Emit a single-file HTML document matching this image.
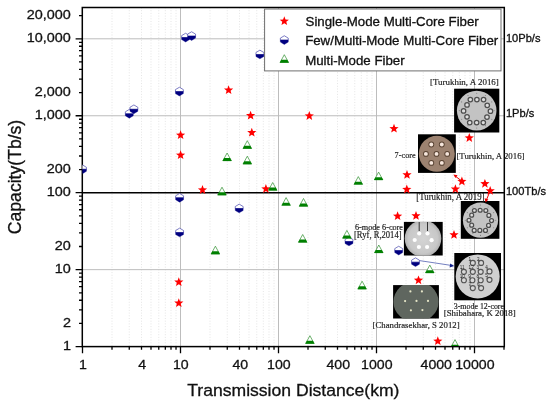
<!DOCTYPE html>
<html><head><meta charset="utf-8"><style>
html,body{margin:0;padding:0;background:#fff;}
svg{display:block;}
.gd{stroke:#e2e2e2;stroke-width:0.9;stroke-dasharray:1 1.7;}
.gs{stroke:#bdbdbd;stroke-width:1;}
text{font-family:"Liberation Sans",Arial,sans-serif;fill:#111;stroke:#111;stroke-width:0.3px;}
.tl{font-size:13.6px;}
.at{font-size:17.45px;}
.rl{font-size:10.7px;}
.lg{font-size:13.25px;}
.tiny{font-size:4.6px;fill:#2a2a2a;stroke:none;}
.an{font-family:"Liberation Serif","Times New Roman",serif;fill:#1e1e1e;stroke:#1e1e1e;stroke-width:0.18px;}
</style></head><body>
<svg width="550" height="405" viewBox="0 0 550 405">
<defs><clipPath id="pc"><rect x="82.3" y="7.5" width="442" height="339.1"/></clipPath>
<clipPath id="mc"><rect x="82.4" y="0" width="430" height="346"/></clipPath>
<radialGradient id="g6"><stop offset="0" stop-color="#d4d4d4"/><stop offset="0.8" stop-color="#c8c8c8"/><stop offset="1" stop-color="#b2b2b2"/></radialGradient></defs>
<rect width="550" height="405" fill="#fff"/>
<line x1="112" y1="7.5" x2="112" y2="346.6" class="gd"/>
<line x1="129.26" y1="7.5" x2="129.26" y2="346.6" class="gd"/>
<line x1="141.5" y1="7.5" x2="141.5" y2="346.6" class="gd"/>
<line x1="151" y1="7.5" x2="151" y2="346.6" class="gd"/>
<line x1="158.76" y1="7.5" x2="158.76" y2="346.6" class="gd"/>
<line x1="165.32" y1="7.5" x2="165.32" y2="346.6" class="gd"/>
<line x1="171" y1="7.5" x2="171" y2="346.6" class="gd"/>
<line x1="176.02" y1="7.5" x2="176.02" y2="346.6" class="gd"/>
<line x1="210" y1="7.5" x2="210" y2="346.6" class="gd"/>
<line x1="227.26" y1="7.5" x2="227.26" y2="346.6" class="gd"/>
<line x1="239.5" y1="7.5" x2="239.5" y2="346.6" class="gd"/>
<line x1="249" y1="7.5" x2="249" y2="346.6" class="gd"/>
<line x1="256.76" y1="7.5" x2="256.76" y2="346.6" class="gd"/>
<line x1="263.32" y1="7.5" x2="263.32" y2="346.6" class="gd"/>
<line x1="269" y1="7.5" x2="269" y2="346.6" class="gd"/>
<line x1="274.02" y1="7.5" x2="274.02" y2="346.6" class="gd"/>
<line x1="308" y1="7.5" x2="308" y2="346.6" class="gd"/>
<line x1="325.26" y1="7.5" x2="325.26" y2="346.6" class="gd"/>
<line x1="337.5" y1="7.5" x2="337.5" y2="346.6" class="gd"/>
<line x1="347" y1="7.5" x2="347" y2="346.6" class="gd"/>
<line x1="354.76" y1="7.5" x2="354.76" y2="346.6" class="gd"/>
<line x1="361.32" y1="7.5" x2="361.32" y2="346.6" class="gd"/>
<line x1="367" y1="7.5" x2="367" y2="346.6" class="gd"/>
<line x1="372.02" y1="7.5" x2="372.02" y2="346.6" class="gd"/>
<line x1="406" y1="7.5" x2="406" y2="346.6" class="gd"/>
<line x1="423.26" y1="7.5" x2="423.26" y2="346.6" class="gd"/>
<line x1="435.5" y1="7.5" x2="435.5" y2="346.6" class="gd"/>
<line x1="445" y1="7.5" x2="445" y2="346.6" class="gd"/>
<line x1="452.76" y1="7.5" x2="452.76" y2="346.6" class="gd"/>
<line x1="459.32" y1="7.5" x2="459.32" y2="346.6" class="gd"/>
<line x1="465" y1="7.5" x2="465" y2="346.6" class="gd"/>
<line x1="470.02" y1="7.5" x2="470.02" y2="346.6" class="gd"/>
<line x1="180.5" y1="7.5" x2="180.5" y2="346.6" class="gs"/>
<line x1="278.5" y1="7.5" x2="278.5" y2="346.6" class="gs"/>
<line x1="376.5" y1="7.5" x2="376.5" y2="346.6" class="gs"/>
<line x1="474.5" y1="7.5" x2="474.5" y2="346.6" class="gs"/>
<line x1="82.3" y1="269.65" x2="504.3" y2="269.65" class="gs"/>
<line x1="82.3" y1="115.75" x2="504.3" y2="115.75" class="gs"/>
<line x1="82.3" y1="38.8" x2="504.3" y2="38.8" class="gs"/>
<line x1="82.3" y1="192.7" x2="504.3" y2="192.7" stroke="#000" stroke-width="1.4"/>
<path d="M75.6 346.6H82.3M82.5 346.6V353.3M79 323.44H82.3M112 346.6V349.8M79 309.89H82.3M129.26 346.6V349.8M79 300.27H82.3M141.5 346.6V349.8M79 292.81H82.3M151 346.6V349.8M79 286.72H82.3M158.76 346.6V349.8M79 281.57H82.3M165.32 346.6V349.8M79 277.11H82.3M171 346.6V349.8M79 273.17H82.3M176.02 346.6V349.8M75.6 269.65H82.3M180.5 346.6V353.3M79 246.49H82.3M210 346.6V349.8M79 232.94H82.3M227.26 346.6V349.8M79 223.32H82.3M239.5 346.6V349.8M79 215.86H82.3M249 346.6V349.8M79 209.77H82.3M256.76 346.6V349.8M79 204.62H82.3M263.32 346.6V349.8M79 200.16H82.3M269 346.6V349.8M79 196.22H82.3M274.02 346.6V349.8M75.6 192.7H82.3M278.5 346.6V353.3M79 169.54H82.3M308 346.6V349.8M79 155.99H82.3M325.26 346.6V349.8M79 146.37H82.3M337.5 346.6V349.8M79 138.91H82.3M347 346.6V349.8M79 132.82H82.3M354.76 346.6V349.8M79 127.67H82.3M361.32 346.6V349.8M79 123.21H82.3M367 346.6V349.8M79 119.27H82.3M372.02 346.6V349.8M75.6 115.75H82.3M376.5 346.6V353.3M79 92.59H82.3M406 346.6V349.8M79 79.04H82.3M423.26 346.6V349.8M79 69.42H82.3M435.5 346.6V349.8M79 61.96H82.3M445 346.6V349.8M79 55.87H82.3M452.76 346.6V349.8M79 50.72H82.3M459.32 346.6V349.8M79 46.26H82.3M465 346.6V349.8M79 42.32H82.3M470.02 346.6V349.8M75.6 38.8H82.3M474.5 346.6V353.3M79 15.64H82.3M504 346.6V349.8" stroke="#000" stroke-width="1.3" fill="none"/>
<rect x="82.3" y="7.5" width="422" height="339.1" fill="none" stroke="#000" stroke-width="1.5"/>
<text transform="translate(62.89 350.2) scale(1.06 1)" class="tl" style="font-size:13.6px">1</text>
<text transform="translate(62.89 327.04) scale(1.06 1)" class="tl" style="font-size:13.6px">2</text>
<text transform="translate(54.67 273.25) scale(1.06 1)" class="tl" style="font-size:13.6px">10</text>
<text transform="translate(54.67 250.09) scale(1.06 1)" class="tl" style="font-size:13.6px">20</text>
<text transform="translate(46.75 196.3) scale(1.06 1)" class="tl" style="font-size:13.6px">100</text>
<text transform="translate(46.75 173.14) scale(1.06 1)" class="tl" style="font-size:13.6px">200</text>
<text transform="translate(34.64 119.35) scale(1.06 1)" class="tl" style="font-size:13.6px">1,000</text>
<text transform="translate(34.64 96.19) scale(1.06 1)" class="tl" style="font-size:13.6px">2,000</text>
<text transform="translate(26.71 42.4) scale(1.06 1)" class="tl" style="font-size:13.6px">10,000</text>
<text transform="translate(26.71 19.24) scale(1.06 1)" class="tl" style="font-size:13.6px">20,000</text>
<text transform="translate(79 368.8) scale(1.04 1)" class="tl" style="font-size:13.6px">1</text>
<text transform="translate(138.28 368.8) scale(1.04 1)" class="tl" style="font-size:13.6px">4</text>
<text transform="translate(172.97 368.8) scale(1.04 1)" class="tl" style="font-size:13.6px">10</text>
<text transform="translate(232.39 368.8) scale(1.04 1)" class="tl" style="font-size:13.6px">40</text>
<text transform="translate(267.08 368.8) scale(1.04 1)" class="tl" style="font-size:13.6px">100</text>
<text transform="translate(326.5 368.8) scale(1.04 1)" class="tl" style="font-size:13.6px">400</text>
<text transform="translate(361.12 368.8) scale(1.04 1)" class="tl" style="font-size:13.6px">1000</text>
<text transform="translate(420.54 368.8) scale(1.04 1)" class="tl" style="font-size:13.6px">4000</text>
<text transform="translate(455.23 368.8) scale(1.04 1)" class="tl" style="font-size:13.6px">10000</text>
<text transform="translate(187.25 396) scale(1.023 1)" class="at" style="font-size:17.2px">Transmission Distance(km)</text>
<g transform="translate(21.2 234.18) rotate(-90)"><text x="0" y="0" class="at" style="font-size:17.6px">Capacity(Tb/s)</text></g>
<text transform="translate(505.91 42.3) scale(1.06 1)" class="rl" style="font-size:10.5px">10Pb/s</text>
<text transform="translate(505.91 117.2) scale(1.06 1)" class="rl" style="font-size:10.5px">1Pb/s</text>
<text transform="translate(505.91 194.9) scale(1.06 1)" class="rl" style="font-size:10.5px">100Tb/s</text>
<g clip-path="url(#pc)">
<rect x="454.1" y="88.7" width="45.2" height="43.8" fill="#000"/><circle cx="476.7" cy="110.6" r="19.8" fill="#c3c3c3"/><circle cx="470.35" cy="99.55" r="2.25" fill="#dedede" stroke="#4e4e4e" stroke-width="1.25"/><circle cx="476.88" cy="99.55" r="2.25" fill="#dedede" stroke="#4e4e4e" stroke-width="1.25"/><circle cx="483.54" cy="99.55" r="2.25" fill="#dedede" stroke="#4e4e4e" stroke-width="1.25"/><circle cx="487.24" cy="105.35" r="2.25" fill="#dedede" stroke="#4e4e4e" stroke-width="1.25"/><circle cx="490.44" cy="111.14" r="2.25" fill="#dedede" stroke="#4e4e4e" stroke-width="1.25"/><circle cx="486.99" cy="117.06" r="2.25" fill="#dedede" stroke="#4e4e4e" stroke-width="1.25"/><circle cx="483.29" cy="122.61" r="2.25" fill="#dedede" stroke="#4e4e4e" stroke-width="1.25"/><circle cx="476.63" cy="122.61" r="2.25" fill="#dedede" stroke="#4e4e4e" stroke-width="1.25"/><circle cx="469.73" cy="122.61" r="2.25" fill="#dedede" stroke="#4e4e4e" stroke-width="1.25"/><circle cx="467.02" cy="116.81" r="2.25" fill="#dedede" stroke="#4e4e4e" stroke-width="1.25"/><circle cx="463.56" cy="110.89" r="2.25" fill="#dedede" stroke="#4e4e4e" stroke-width="1.25"/><circle cx="467.02" cy="104.98" r="2.25" fill="#dedede" stroke="#4e4e4e" stroke-width="1.25"/><circle cx="476.7" cy="93.2" r="0.55" fill="#808080"/><circle cx="485.4" cy="95.53" r="0.55" fill="#808080"/><circle cx="491.77" cy="101.9" r="0.55" fill="#808080"/><circle cx="494.1" cy="110.6" r="0.55" fill="#808080"/><circle cx="491.77" cy="119.3" r="0.55" fill="#808080"/><circle cx="485.4" cy="125.67" r="0.55" fill="#808080"/><circle cx="476.7" cy="128" r="0.55" fill="#808080"/><circle cx="468" cy="125.67" r="0.55" fill="#808080"/><circle cx="461.63" cy="119.3" r="0.55" fill="#808080"/><circle cx="459.3" cy="110.6" r="0.55" fill="#808080"/><circle cx="461.63" cy="101.9" r="0.55" fill="#808080"/><circle cx="468" cy="95.53" r="0.55" fill="#808080"/>
<rect x="460.8" y="201" width="38.6" height="37.8" fill="#000"/><circle cx="480.5" cy="220.2" r="17.6" fill="#c3c3c3"/><circle cx="474.4" cy="210.51" r="1.95" fill="#dedede" stroke="#4e4e4e" stroke-width="1.25"/><circle cx="480.16" cy="210.29" r="1.95" fill="#dedede" stroke="#4e4e4e" stroke-width="1.25"/><circle cx="485.82" cy="210.51" r="1.95" fill="#dedede" stroke="#4e4e4e" stroke-width="1.25"/><circle cx="488.86" cy="215.4" r="1.95" fill="#dedede" stroke="#4e4e4e" stroke-width="1.25"/><circle cx="491.58" cy="220.62" r="1.95" fill="#dedede" stroke="#4e4e4e" stroke-width="1.25"/><circle cx="488.54" cy="225.4" r="1.95" fill="#dedede" stroke="#4e4e4e" stroke-width="1.25"/><circle cx="485.49" cy="230.41" r="1.95" fill="#dedede" stroke="#4e4e4e" stroke-width="1.25"/><circle cx="479.84" cy="230.41" r="1.95" fill="#dedede" stroke="#4e4e4e" stroke-width="1.25"/><circle cx="474.18" cy="230.41" r="1.95" fill="#dedede" stroke="#4e4e4e" stroke-width="1.25"/><circle cx="471.68" cy="225.19" r="1.95" fill="#dedede" stroke="#4e4e4e" stroke-width="1.25"/><circle cx="468.96" cy="220.29" r="1.95" fill="#dedede" stroke="#4e4e4e" stroke-width="1.25"/><circle cx="471.68" cy="215.18" r="1.95" fill="#dedede" stroke="#4e4e4e" stroke-width="1.25"/><circle cx="480.5" cy="205" r="0.55" fill="#808080"/><circle cx="488.1" cy="207.04" r="0.55" fill="#808080"/><circle cx="493.66" cy="212.6" r="0.55" fill="#808080"/><circle cx="495.7" cy="220.2" r="0.55" fill="#808080"/><circle cx="493.66" cy="227.8" r="0.55" fill="#808080"/><circle cx="488.1" cy="233.36" r="0.55" fill="#808080"/><circle cx="480.5" cy="235.4" r="0.55" fill="#808080"/><circle cx="472.9" cy="233.36" r="0.55" fill="#808080"/><circle cx="467.34" cy="227.8" r="0.55" fill="#808080"/><circle cx="465.3" cy="220.2" r="0.55" fill="#808080"/><circle cx="467.34" cy="212.6" r="0.55" fill="#808080"/><circle cx="472.9" cy="207.04" r="0.55" fill="#808080"/>
<rect x="418" y="134.3" width="37.8" height="38.6" fill="#000"/><circle cx="436.8" cy="153.8" r="18" fill="#9c8270"/><circle cx="431.3" cy="144.5" r="2.9" fill="#5a4434"/><circle cx="431.3" cy="144.5" r="1.95" fill="#f6e6dc"/><circle cx="441.8" cy="144.5" r="2.9" fill="#5a4434"/><circle cx="441.8" cy="144.5" r="1.95" fill="#f6e6dc"/><circle cx="425.9" cy="153.9" r="2.9" fill="#5a4434"/><circle cx="425.9" cy="153.9" r="1.95" fill="#f6e6dc"/><circle cx="436.5" cy="153.9" r="2.9" fill="#5a4434"/><circle cx="436.5" cy="153.9" r="1.95" fill="#f6e6dc"/><circle cx="447.2" cy="153.9" r="2.9" fill="#5a4434"/><circle cx="447.2" cy="153.9" r="1.95" fill="#f6e6dc"/><circle cx="431.3" cy="162.9" r="2.9" fill="#5a4434"/><circle cx="431.3" cy="162.9" r="1.95" fill="#f6e6dc"/><circle cx="441.8" cy="162.9" r="2.9" fill="#5a4434"/><circle cx="441.8" cy="162.9" r="1.95" fill="#f6e6dc"/>
<rect x="403.9" y="221.9" width="38.8" height="33.6" fill="#000"/><clipPath id="c6"><rect x="403.9" y="221.9" width="38.8" height="33.6"/></clipPath><circle cx="423" cy="238.6" r="18.3" fill="url(#g6)" clip-path="url(#c6)"/><path d="M419.2 222V231M427.5 222V231" stroke="#333" stroke-width="1"/><circle cx="419.2" cy="233.5" r="2.1" fill="#fff"/><circle cx="427.5" cy="233.5" r="2.1" fill="#fff"/><circle cx="414.7" cy="240" r="2.1" fill="#fff"/><circle cx="431.6" cy="240.2" r="2.1" fill="#fff"/><circle cx="418.9" cy="247" r="2.1" fill="#fff"/><circle cx="427.1" cy="247" r="2.1" fill="#fff"/>
<rect x="454.3" y="253" width="46.7" height="47.3" fill="#000"/><circle cx="477.7" cy="276.4" r="22" fill="#d0d0d0"/><circle cx="472.8" cy="262.9" r="2.5" fill="#d8d8d8" stroke="#555" stroke-width="1.15"/><path d="M470.4 262.3v-3" stroke="#555" stroke-width="0.7"/><text x="468.6" y="260.5" class="tiny">1</text><circle cx="481.1" cy="262.9" r="2.5" fill="#d8d8d8" stroke="#555" stroke-width="1.15"/><path d="M478.7 262.3v-3" stroke="#555" stroke-width="0.7"/><text x="476.9" y="260.5" class="tiny">2</text><circle cx="463.9" cy="271.8" r="2.5" fill="#d8d8d8" stroke="#555" stroke-width="1.15"/><path d="M461.5 271.2v-3" stroke="#555" stroke-width="0.7"/><text x="459.7" y="269.4" class="tiny">11</text><circle cx="472.8" cy="271.8" r="2.5" fill="#d8d8d8" stroke="#555" stroke-width="1.15"/><path d="M470.4 271.2v-3" stroke="#555" stroke-width="0.7"/><text x="468.6" y="269.4" class="tiny">12</text><circle cx="480.7" cy="271.8" r="2.5" fill="#d8d8d8" stroke="#555" stroke-width="1.15"/><path d="M478.3 271.2v-3" stroke="#555" stroke-width="0.7"/><text x="476.5" y="269.4" class="tiny">3</text><circle cx="489.5" cy="271.4" r="2.5" fill="#d8d8d8" stroke="#555" stroke-width="1.15"/><path d="M487.1 270.8v-3" stroke="#555" stroke-width="0.7"/><text x="485.3" y="269" class="tiny">4</text><circle cx="463.9" cy="280.2" r="2.5" fill="#d8d8d8" stroke="#555" stroke-width="1.15"/><path d="M461.5 279.6v-3" stroke="#555" stroke-width="0.7"/><text x="459.7" y="277.8" class="tiny">10</text><circle cx="472.4" cy="280.2" r="2.5" fill="#d8d8d8" stroke="#555" stroke-width="1.15"/><path d="M470 279.6v-3" stroke="#555" stroke-width="0.7"/><text x="468.2" y="277.8" class="tiny">9</text><circle cx="480.7" cy="280.2" r="2.5" fill="#d8d8d8" stroke="#555" stroke-width="1.15"/><path d="M478.3 279.6v-3" stroke="#555" stroke-width="0.7"/><text x="476.5" y="277.8" class="tiny">8</text><circle cx="489.5" cy="279.8" r="2.5" fill="#d8d8d8" stroke="#555" stroke-width="1.15"/><path d="M487.1 279.2v-3" stroke="#555" stroke-width="0.7"/><text x="485.3" y="277.4" class="tiny">5</text><circle cx="472.8" cy="288.1" r="2.5" fill="#d8d8d8" stroke="#555" stroke-width="1.15"/><path d="M470.4 287.5v-3" stroke="#555" stroke-width="0.7"/><text x="468.6" y="285.7" class="tiny">7</text><circle cx="481.1" cy="288.1" r="2.5" fill="#d8d8d8" stroke="#555" stroke-width="1.15"/><path d="M478.7 287.5v-3" stroke="#555" stroke-width="0.7"/><text x="476.9" y="285.7" class="tiny">6</text>
<rect x="393.1" y="285.1" width="45.8" height="33.4" fill="#000"/><clipPath id="cc"><rect x="393.1" y="285.1" width="45.8" height="33.4"/></clipPath><ellipse cx="416" cy="301.8" rx="22.6" ry="20.5" fill="#5f665f" clip-path="url(#cc)"/><circle cx="410.4" cy="291.4" r="1.1" fill="#e6e6c8"/><circle cx="421.9" cy="291.4" r="1.1" fill="#e6e6c8"/><circle cx="405.1" cy="301.1" r="1.1" fill="#e6e6c8"/><circle cx="416.5" cy="300.9" r="1.1" fill="#e6e6c8"/><circle cx="428" cy="300.9" r="1.1" fill="#e6e6c8"/><circle cx="410.9" cy="310.3" r="1.1" fill="#e6e6c8"/><circle cx="422.4" cy="310.1" r="1.1" fill="#e6e6c8"/>
</g>
<g clip-path="url(#mc)">
<polygon points="180.6,130.31 181.83,133.48 185.21,133.66 182.58,135.81 183.45,139.09 180.6,137.25 177.75,139.09 178.62,135.81 175.99,133.66 179.37,133.48" fill="#f00"/>
<polygon points="180.6,150.31 181.83,153.48 185.21,153.66 182.58,155.81 183.45,159.09 180.6,157.25 177.75,159.09 178.62,155.81 175.99,153.66 179.37,153.48" fill="#f00"/>
<polygon points="202.5,185.11 203.73,188.28 207.11,188.46 204.48,190.61 205.35,193.89 202.5,192.05 199.65,193.89 200.52,190.61 197.89,188.46 201.27,188.28" fill="#f00"/>
<polygon points="228.6,85.21 229.83,88.38 233.21,88.56 230.58,90.71 231.45,93.99 228.6,92.15 225.75,93.99 226.62,90.71 223.99,88.56 227.37,88.38" fill="#f00"/>
<polygon points="250.6,110.71 251.83,113.88 255.21,114.06 252.58,116.21 253.45,119.49 250.6,117.65 247.75,119.49 248.62,116.21 245.99,114.06 249.37,113.88" fill="#f00"/>
<polygon points="251.8,127.71 253.03,130.88 256.41,131.06 253.78,133.21 254.65,136.49 251.8,134.65 248.95,136.49 249.82,133.21 247.19,131.06 250.57,130.88" fill="#f00"/>
<polygon points="309.3,111.11 310.53,114.28 313.91,114.46 311.28,116.61 312.15,119.89 309.3,118.05 306.45,119.89 307.32,116.61 304.69,114.46 308.07,114.28" fill="#f00"/>
<polygon points="394,123.81 395.23,126.98 398.61,127.16 395.98,129.31 396.85,132.59 394,130.75 391.15,132.59 392.02,129.31 389.39,127.16 392.77,126.98" fill="#f00"/>
<polygon points="469.3,133.11 470.53,136.28 473.91,136.46 471.28,138.61 472.15,141.89 469.3,140.05 466.45,141.89 467.32,138.61 464.69,136.46 468.07,136.28" fill="#f00"/>
<polygon points="407,170.01 408.23,173.18 411.61,173.36 408.98,175.51 409.85,178.79 407,176.95 404.15,178.79 405.02,175.51 402.39,173.36 405.77,173.18" fill="#f00"/>
<polygon points="406.8,184.61 408.03,187.78 411.41,187.96 408.78,190.11 409.65,193.39 406.8,191.55 403.95,193.39 404.82,190.11 402.19,187.96 405.57,187.78" fill="#f00"/>
<polygon points="461.9,176.61 463.13,179.78 466.51,179.96 463.88,182.11 464.75,185.39 461.9,183.55 459.05,185.39 459.92,182.11 457.29,179.96 460.67,179.78" fill="#f00"/>
<polygon points="455.4,184.21 456.63,187.38 460.01,187.56 457.38,189.71 458.25,192.99 455.4,191.15 452.55,192.99 453.42,189.71 450.79,187.56 454.17,187.38" fill="#f00"/>
<polygon points="484.9,178.91 486.13,182.08 489.51,182.26 486.88,184.41 487.75,187.69 484.9,185.85 482.05,187.69 482.92,184.41 480.29,182.26 483.67,182.08" fill="#f00"/>
<polygon points="490.2,186.01 491.43,189.18 494.81,189.36 492.18,191.51 493.05,194.79 490.2,192.95 487.35,194.79 488.22,191.51 485.59,189.36 488.97,189.18" fill="#f00"/>
<polygon points="416,211.01 417.23,214.18 420.61,214.36 417.98,216.51 418.85,219.79 416,217.95 413.15,219.79 414.02,216.51 411.39,214.36 414.77,214.18" fill="#f00"/>
<polygon points="397.6,211.31 398.83,214.48 402.21,214.66 399.58,216.81 400.45,220.09 397.6,218.25 394.75,220.09 395.62,216.81 392.99,214.66 396.37,214.48" fill="#f00"/>
<polygon points="454,230.01 455.23,233.18 458.61,233.36 455.98,235.51 456.85,238.79 454,236.95 451.15,238.79 452.02,235.51 449.39,233.36 452.77,233.18" fill="#f00"/>
<polygon points="418.5,275.41 419.73,278.58 423.11,278.76 420.48,280.91 421.35,284.19 418.5,282.35 415.65,284.19 416.52,280.91 413.89,278.76 417.27,278.58" fill="#f00"/>
<polygon points="437.8,336.31 439.03,339.48 442.41,339.66 439.78,341.81 440.65,345.09 437.8,343.25 434.95,345.09 435.82,341.81 433.19,339.66 436.57,339.48" fill="#f00"/>
<polygon points="178.8,277.21 180.03,280.38 183.41,280.56 180.78,282.71 181.65,285.99 178.8,284.15 175.95,285.99 176.82,282.71 174.19,280.56 177.57,280.38" fill="#f00"/>
<polygon points="178.8,298.21 180.03,301.38 183.41,301.56 180.78,303.71 181.65,306.99 178.8,305.15 175.95,306.99 176.82,303.71 174.19,301.56 177.57,301.38" fill="#f00"/>
<polygon points="265.9,184.11 267.13,187.28 270.51,187.46 267.88,189.61 268.75,192.89 265.9,191.05 263.05,192.89 263.92,189.61 261.29,187.46 264.67,187.28" fill="#f00"/>
<polygon points="78.55,169.3 78.55,167.3 82.5,164.95 86.45,167.3 86.45,169.3" fill="#fff" stroke="#4646ac" stroke-width="0.7" stroke-linejoin="round"/><polygon points="78.55,169.3 86.45,169.3 86.45,171.3 82.5,173.65 78.55,171.3" fill="#000080" stroke="#000080" stroke-width="0.35" stroke-linejoin="round"/>
<polygon points="125.35,113.8 125.35,111.8 129.3,109.45 133.25,111.8 133.25,113.8" fill="#fff" stroke="#4646ac" stroke-width="0.7" stroke-linejoin="round"/><polygon points="125.35,113.8 133.25,113.8 133.25,115.8 129.3,118.15 125.35,115.8" fill="#000080" stroke="#000080" stroke-width="0.35" stroke-linejoin="round"/>
<polygon points="129.95,109.3 129.95,107.3 133.9,104.95 137.85,107.3 137.85,109.3" fill="#fff" stroke="#4646ac" stroke-width="0.7" stroke-linejoin="round"/><polygon points="129.95,109.3 137.85,109.3 137.85,111.3 133.9,113.65 129.95,111.3" fill="#000080" stroke="#000080" stroke-width="0.35" stroke-linejoin="round"/>
<polygon points="175.45,91.6 175.45,89.6 179.4,87.25 183.35,89.6 183.35,91.6" fill="#fff" stroke="#4646ac" stroke-width="0.7" stroke-linejoin="round"/><polygon points="175.45,91.6 183.35,91.6 183.35,93.6 179.4,95.95 175.45,93.6" fill="#000080" stroke="#000080" stroke-width="0.35" stroke-linejoin="round"/>
<polygon points="181.65,37.6 181.65,35.6 185.6,33.25 189.55,35.6 189.55,37.6" fill="#fff" stroke="#4646ac" stroke-width="0.7" stroke-linejoin="round"/><polygon points="181.65,37.6 189.55,37.6 189.55,39.6 185.6,41.95 181.65,39.6" fill="#000080" stroke="#000080" stroke-width="0.35" stroke-linejoin="round"/>
<polygon points="187.65,36.1 187.65,34.1 191.6,31.75 195.55,34.1 195.55,36.1" fill="#fff" stroke="#4646ac" stroke-width="0.7" stroke-linejoin="round"/><polygon points="187.65,36.1 195.55,36.1 195.55,38.1 191.6,40.45 187.65,38.1" fill="#000080" stroke="#000080" stroke-width="0.35" stroke-linejoin="round"/>
<polygon points="175.65,197.8 175.65,195.8 179.6,193.45 183.55,195.8 183.55,197.8" fill="#fff" stroke="#4646ac" stroke-width="0.7" stroke-linejoin="round"/><polygon points="175.65,197.8 183.55,197.8 183.55,199.8 179.6,202.15 175.65,199.8" fill="#000080" stroke="#000080" stroke-width="0.35" stroke-linejoin="round"/>
<polygon points="175.65,232.5 175.65,230.5 179.6,228.15 183.55,230.5 183.55,232.5" fill="#fff" stroke="#4646ac" stroke-width="0.7" stroke-linejoin="round"/><polygon points="175.65,232.5 183.55,232.5 183.55,234.5 179.6,236.85 175.65,234.5" fill="#000080" stroke="#000080" stroke-width="0.35" stroke-linejoin="round"/>
<polygon points="235.25,208.5 235.25,206.5 239.2,204.15 243.15,206.5 243.15,208.5" fill="#fff" stroke="#4646ac" stroke-width="0.7" stroke-linejoin="round"/><polygon points="235.25,208.5 243.15,208.5 243.15,210.5 239.2,212.85 235.25,210.5" fill="#000080" stroke="#000080" stroke-width="0.35" stroke-linejoin="round"/>
<polygon points="255.95,54.5 255.95,52.5 259.9,50.15 263.85,52.5 263.85,54.5" fill="#fff" stroke="#4646ac" stroke-width="0.7" stroke-linejoin="round"/><polygon points="255.95,54.5 263.85,54.5 263.85,56.5 259.9,58.85 255.95,56.5" fill="#000080" stroke="#000080" stroke-width="0.35" stroke-linejoin="round"/>
<polygon points="345.05,241.5 345.05,239.5 349,237.15 352.95,239.5 352.95,241.5" fill="#fff" stroke="#4646ac" stroke-width="0.7" stroke-linejoin="round"/><polygon points="345.05,241.5 352.95,241.5 352.95,243.5 349,245.85 345.05,243.5" fill="#000080" stroke="#000080" stroke-width="0.35" stroke-linejoin="round"/>
<polygon points="394.75,250.6 394.75,248.6 398.7,246.25 402.65,248.6 402.65,250.6" fill="#fff" stroke="#4646ac" stroke-width="0.7" stroke-linejoin="round"/><polygon points="394.75,250.6 402.65,250.6 402.65,252.6 398.7,254.95 394.75,252.6" fill="#000080" stroke="#000080" stroke-width="0.35" stroke-linejoin="round"/>
<polygon points="411.55,262.2 411.55,260.2 415.5,257.85 419.45,260.2 419.45,262.2" fill="#fff" stroke="#4646ac" stroke-width="0.7" stroke-linejoin="round"/><polygon points="411.55,262.2 419.45,262.2 419.45,264.2 415.5,266.55 411.55,264.2" fill="#000080" stroke="#000080" stroke-width="0.35" stroke-linejoin="round"/>
<polygon points="222,187.2 226.2,194.9 217.8,194.9" fill="#fff" stroke="#2e8f2e" stroke-width="0.7"/><polygon points="218.99,192.3 225.01,192.3 226.6,195.2 217.4,195.2" fill="#008000"/>
<polygon points="215.4,246.2 219.6,253.9 211.2,253.9" fill="#fff" stroke="#2e8f2e" stroke-width="0.7"/><polygon points="212.39,251.3 218.41,251.3 220,254.2 210.8,254.2" fill="#008000"/>
<polygon points="247.3,140.7 251.5,148.4 243.1,148.4" fill="#fff" stroke="#2e8f2e" stroke-width="0.7"/><polygon points="244.29,145.8 250.31,145.8 251.9,148.7 242.7,148.7" fill="#008000"/>
<polygon points="227.1,153 231.3,160.7 222.9,160.7" fill="#fff" stroke="#2e8f2e" stroke-width="0.7"/><polygon points="224.09,158.1 230.11,158.1 231.7,161 222.5,161" fill="#008000"/>
<polygon points="247.3,156.2 251.5,163.9 243.1,163.9" fill="#fff" stroke="#2e8f2e" stroke-width="0.7"/><polygon points="244.29,161.3 250.31,161.3 251.9,164.2 242.7,164.2" fill="#008000"/>
<polygon points="346.9,230.4 351.1,238.1 342.7,238.1" fill="#fff" stroke="#2e8f2e" stroke-width="0.7"/><polygon points="343.89,235.5 349.91,235.5 351.5,238.4 342.3,238.4" fill="#008000"/>
<polygon points="378.8,245 383,252.7 374.6,252.7" fill="#fff" stroke="#2e8f2e" stroke-width="0.7"/><polygon points="375.79,250.1 381.81,250.1 383.4,253 374.2,253" fill="#008000"/>
<polygon points="429.8,265.1 434,272.8 425.6,272.8" fill="#fff" stroke="#2e8f2e" stroke-width="0.7"/><polygon points="426.79,270.2 432.81,270.2 434.4,273.1 425.2,273.1" fill="#008000"/>
<polygon points="362.1,281.2 366.3,288.9 357.9,288.9" fill="#fff" stroke="#2e8f2e" stroke-width="0.7"/><polygon points="359.09,286.3 365.11,286.3 366.7,289.2 357.5,289.2" fill="#008000"/>
<polygon points="455,339.6 459.2,347.3 450.8,347.3" fill="#fff" stroke="#2e8f2e" stroke-width="0.7"/><polygon points="451.99,344.7 458.01,344.7 459.6,347.6 450.4,347.6" fill="#008000"/>
<polygon points="309.9,335.7 314.1,343.4 305.7,343.4" fill="#fff" stroke="#2e8f2e" stroke-width="0.7"/><polygon points="306.89,340.8 312.91,340.8 314.5,343.7 305.3,343.7" fill="#008000"/>
<polygon points="272.7,182.5 276.9,190.2 268.5,190.2" fill="#fff" stroke="#2e8f2e" stroke-width="0.7"/><polygon points="269.69,187.6 275.71,187.6 277.3,190.5 268.1,190.5" fill="#008000"/>
<polygon points="286.1,197.6 290.3,205.3 281.9,205.3" fill="#fff" stroke="#2e8f2e" stroke-width="0.7"/><polygon points="283.09,202.7 289.11,202.7 290.7,205.6 281.5,205.6" fill="#008000"/>
<polygon points="303.5,198.5 307.7,206.2 299.3,206.2" fill="#fff" stroke="#2e8f2e" stroke-width="0.7"/><polygon points="300.49,203.6 306.51,203.6 308.1,206.5 298.9,206.5" fill="#008000"/>
<polygon points="302.7,234.5 306.9,242.2 298.5,242.2" fill="#fff" stroke="#2e8f2e" stroke-width="0.7"/><polygon points="299.69,239.6 305.71,239.6 307.3,242.5 298.1,242.5" fill="#008000"/>
<polygon points="358.3,176.6 362.5,184.3 354.1,184.3" fill="#fff" stroke="#2e8f2e" stroke-width="0.7"/><polygon points="355.29,181.7 361.31,181.7 362.9,184.6 353.7,184.6" fill="#008000"/>
<polygon points="378.6,172.1 382.8,179.8 374.4,179.8" fill="#fff" stroke="#2e8f2e" stroke-width="0.7"/><polygon points="375.59,177.2 381.61,177.2 383.2,180.1 374,180.1" fill="#008000"/>
</g>
<path d="M461 180.5L455.2 176" stroke="#e00" stroke-width="1"/><polygon points="453.4,174.4 457.6,175.2 455.4,178" fill="#e00"/>
<path d="M489.5 192.5L486.6 199.5" stroke="#e00" stroke-width="1"/><polygon points="485.6,202.4 484.6,198.2 488.4,199.6" fill="#e00"/>
<path d="M419.5 260.6L450.5 265.3" stroke="#5060b0" stroke-width="0.8"/><polygon points="454.2,265.9 449.6,267.5 450.2,263.4" fill="#10208a"/>
<text transform="translate(429.97 84.96)" class="an" style="font-size:8.93px">[Turukhin, A 2016]</text>
<text transform="translate(394.62 157.8) scale(0.928 1)" class="an" style="font-size:8.92px">7-core</text>
<text transform="translate(456.38 159.04) scale(0.978 1)" class="an" style="font-size:9.05px">[Turukhin, A 2016]</text>
<text transform="translate(416.18 199.84) scale(0.909 1)" class="an" style="font-size:9.76px">[Turukhin, A 2019]</text>
<text transform="translate(354.97 229.7) scale(1.111 1)" class="an" style="font-size:7.39px">6-mode 6-core</text>
<text transform="translate(354 237.58) scale(0.849 1)" class="an" style="font-size:10.12px">[Ryf, R,2014]</text>
<text transform="translate(453.8 308.7) scale(1.029 1)" class="an" style="font-size:7.68px">3-mode 12-core</text>
<text transform="translate(443.68 315.7) scale(1.111 1)" class="an" style="font-size:7.98px">[Shibahara, K 2018]</text>
<text transform="translate(372.49 328.14) scale(0.97 1)" class="an" style="font-size:9.05px">[Chandrasekhar, S 2012]</text>
<rect x="264.6" y="9" width="236.4" height="61.9" fill="#fff" stroke="#6e6e6e" stroke-width="1"/>
<polygon points="284.3,16.31 285.53,19.48 288.91,19.66 286.28,21.81 287.15,25.09 284.3,23.25 281.45,25.09 282.32,21.81 279.69,19.66 283.07,19.48" fill="#f00"/>
<polygon points="280.35,40.1 280.35,38.1 284.3,35.75 288.25,38.1 288.25,40.1" fill="#fff" stroke="#4646ac" stroke-width="0.7" stroke-linejoin="round"/><polygon points="280.35,40.1 288.25,40.1 288.25,42.1 284.3,44.45 280.35,42.1" fill="#000080" stroke="#000080" stroke-width="0.35" stroke-linejoin="round"/>
<polygon points="284.3,54.7 288.5,62.4 280.1,62.4" fill="#fff" stroke="#2e8f2e" stroke-width="0.7"/><polygon points="281.29,59.8 287.31,59.8 288.9,62.7 279.7,62.7" fill="#008000"/>
<text transform="translate(305.54 25.6) scale(1.063 1)" class="lg" style="font-size:12.5px">Single-Mode Multi-Core Fiber</text>
<text transform="translate(305.14 45.4) scale(1.063 1)" class="lg" style="font-size:12.5px">Few/Multi-Mode Multi-Core Fiber</text>
<text transform="translate(305.14 65.1) scale(1.063 1)" class="lg" style="font-size:12.5px">Multi-Mode Fiber</text>
</svg>
</body></html>
